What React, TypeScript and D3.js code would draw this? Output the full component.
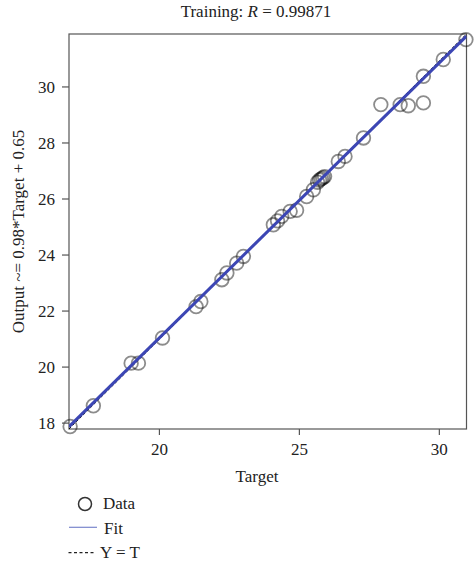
import React from "react";
import * as d3 from "d3";

const TITLE_PREFIX = "Training: ";
const TITLE_R = "R";
const TITLE_SUFFIX = " = 0.99871";
const X_LABEL = "Target";
const Y_LABEL = "Output ~= 0.98*Target + 0.65";

const X_DOMAIN = [16.77, 30.97];
const Y_DOMAIN = [17.79, 31.89];
const X_TICKS = [20, 25, 30];
const Y_TICKS = [18, 20, 22, 24, 26, 28, 30];

// Scatter points (target, output)
const TARGETS = [
  16.81, 17.64, 18.99, 19.25, 20.11, 21.31, 21.48, 22.23, 22.41, 22.76, 23.0,
  24.07, 24.22, 24.37, 24.67, 24.9, 25.26, 25.5, 25.65, 25.72, 25.78, 25.84,
  25.9, 26.39, 26.63, 27.29, 27.91, 28.6, 28.89, 29.43, 29.43, 30.14, 30.95,
];
const OUTPUTS = [
  17.88, 18.62, 20.14, 20.14, 21.04, 22.16, 22.34, 23.12, 23.36, 23.71, 23.95,
  25.08, 25.22, 25.38, 25.56, 25.6, 26.09, 26.33, 26.6, 26.68, 26.72, 26.76,
  26.8, 27.34, 27.52, 28.18, 29.37, 29.37, 29.33, 29.43, 30.38, 30.98, 31.69,
];

// Fitted line as drawn in the plot's coordinates
const FIT_SLOPE = 0.9817;
const FIT_INTERCEPT = 1.41;

const LEGEND_LABELS = ["Data", "Fit", "Y = T"];

const FONT = "'Liberation Serif', 'Times New Roman', serif";

export default function App() {
  const left = 69;
  const right = 466.5;
  const top = 34;
  const bottom = 429;

  const x = d3.scaleLinear().domain(X_DOMAIN).range([left, right]);
  const y = d3.scaleLinear().domain(Y_DOMAIN).range([bottom, top]);

  const fitLine = d3
    .line<number>()
    .x((t) => x(t))
    .y((t) => y(FIT_SLOPE * t + FIT_INTERCEPT));
  const fitXs = [X_DOMAIN[0], X_DOMAIN[1]];

  const idLine = `M${x(X_DOMAIN[0])},${y(Y_DOMAIN[0])}L${x(X_DOMAIN[1])},${y(Y_DOMAIN[1])}`;

  const points = TARGETS.map((t, i) => [t, OUTPUTS[i]]);

  return (
    <div style={{ position: "fixed", left: 0, top: 0 }}>
      <svg width={474} height={565} style={{ display: "block", background: "#fff" }}>
        <defs>
          <clipPath id="plotclip">
            <rect x={left} y={top} width={right - left} height={bottom - top} />
          </clipPath>
        </defs>
        <rect x={0} y={0} width={474} height={565} fill="#fff" />

        {/* title */}
        <text x={256} y={17} textAnchor="middle" fontFamily={FONT} fontSize={17} fill="#222">
          {TITLE_PREFIX}
          <tspan fontStyle="italic">{TITLE_R}</tspan>
          {TITLE_SUFFIX}
        </text>

        {/* frame */}
        <rect x={left} y={top} width={right - left} height={bottom - top} fill="none" stroke="#555" strokeWidth={1.2} />

        {/* data */}
        <g>
          {points.map((p, i) => (
            <circle
              key={i}
              cx={x(p[0])}
              cy={y(p[1])}
              r={6.8}
              fill="none"
              stroke="#000"
              strokeOpacity={0.45}
              strokeWidth={1.8}
            />
          ))}
        </g>
        <g clipPath="url(#plotclip)">
          <path d={idLine} stroke="#000" strokeWidth={1} strokeDasharray="3,2" fill="none" />
          <path d={fitLine(fitXs) || ""} stroke="#3c46b4" strokeWidth={3} fill="none" />
        </g>

        {/* x ticks */}
        {X_TICKS.map((t) => (
          <g key={t}>
            <line x1={x(t)} x2={x(t)} y1={bottom} y2={bottom + 6} stroke="#555" strokeWidth={1.2} />
            <text x={x(t)} y={455} textAnchor="middle" fontFamily={FONT} fontSize={17} fill="#222">
              {t}
            </text>
          </g>
        ))}

        {/* y ticks */}
        {Y_TICKS.map((t) => (
          <g key={t}>
            <line x1={left - 7} x2={left} y1={y(t)} y2={y(t)} stroke="#555" strokeWidth={1.2} />
            <text x={55} y={y(t)} dy="0.35em" textAnchor="end" fontFamily={FONT} fontSize={17} fill="#222">
              {t}
            </text>
          </g>
        ))}

        {/* axis labels */}
        <text x={257} y={482} textAnchor="middle" fontFamily={FONT} fontSize={17} fill="#222">
          {X_LABEL}
        </text>
        <text
          transform={`translate(23.5,${(top + bottom) / 2}) rotate(-90)`}
          textAnchor="middle"
          fontFamily={FONT}
          fontSize={17}
          fill="#222"
        >
          {Y_LABEL}
        </text>

        {/* legend */}
        <circle cx={85} cy={504} r={6.5} fill="none" stroke="#333" strokeWidth={1.5} />
        <text x={103} y={509} fontFamily={FONT} fontSize={17} fill="#222">
          {LEGEND_LABELS[0]}
        </text>
        <line x1={69} x2={97} y1={527.3} y2={527.3} stroke="#7a86cc" strokeWidth={1.2} />
        <text x={104} y={534} fontFamily={FONT} fontSize={17} fill="#222">
          {LEGEND_LABELS[1]}
        </text>
        <line x1={68.5} x2={94} y1={552.7} y2={552.7} stroke="#222" strokeWidth={1.2} strokeDasharray="3,2.5" />
        <text x={100} y={558} fontFamily={FONT} fontSize={17} fill="#222">
          {LEGEND_LABELS[2]}
        </text>
      </svg>
    </div>
  );
}
